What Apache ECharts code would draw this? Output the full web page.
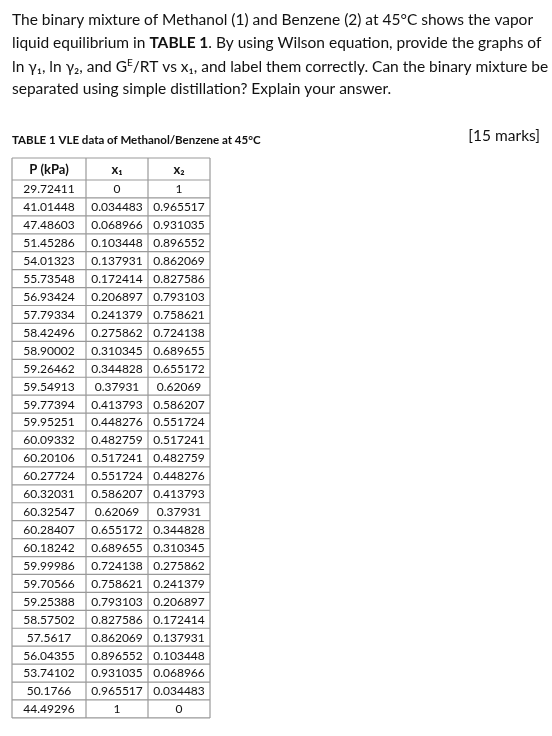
<!DOCTYPE html>
<html><head><meta charset="utf-8">
<script src="https://cdn.jsdelivr.net/npm/echarts@6/dist/echarts.min.js"></script>
<style>html,body{margin:0;padding:0;background:#fff}#c{width:552px;height:736px}</style>
</head><body><div id="c"></div>
<script>
var paragraph = [
  "The binary mixture of Methanol (1) and Benzene (2) at 45°C shows the vapor",
  "liquid equilibrium in {b|TABLE 1}. By using Wilson equation, provide the graphs of",
  "ln γ₁, ln γ₂, and G{s|E}/RT vs x₁, and label them correctly. Can the binary mixture be",
  "separated using simple distillation? Explain your answer."
];
var marksText = "[15 marks]";
var tableTitle = "TABLE 1 VLE data of Methanol/Benzene at 45°C";
var headers = ["P (kPa)", "x₁", "x₂"];
var P = ["29.72411","41.01448","47.48603","51.45286","54.01323","55.73548","56.93424","57.79334","58.42496","58.90002","59.26462","59.54913","59.77394","59.95251","60.09332","60.20106","60.27724","60.32031","60.32547","60.28407","60.18242","59.99986","59.70566","59.25388","58.57502","57.5617","56.04355","53.74102","50.1766","44.49296"];
var X1 = ["0","0.034483","0.068966","0.103448","0.137931","0.172414","0.206897","0.241379","0.275862","0.310345","0.344828","0.37931","0.413793","0.448276","0.482759","0.517241","0.551724","0.586207","0.62069","0.655172","0.689655","0.724138","0.758621","0.793103","0.827586","0.862069","0.896552","0.931035","0.965517","1"];
var X2 = ["1","0.965517","0.931035","0.896552","0.862069","0.827586","0.793103","0.758621","0.724138","0.689655","0.655172","0.62069","0.586207","0.551724","0.517241","0.482759","0.448276","0.413793","0.37931","0.344828","0.310345","0.275862","0.241379","0.206897","0.172414","0.137931","0.103448","0.068966","0.034483","0"];

var F = "Lato, 'Open Sans', sans-serif";
var g = [];
paragraph.forEach(function(t, i){
  g.push({type:'text', left:12, top:12 + i*23, style:{text:t, font:'15.5px '+F, fill:'#111',
    rich:{b:{fontWeight:'bold', fontSize:15.5, fontFamily:F, fill:'#111'}, s:{fontSize:10, fontFamily:F, verticalAlign:'top', padding:[0,0,8,0], fill:'#111'}}}});
});
g.push({type:'text', right:12, top:128, style:{text:marksText, font:'15.5px '+F, fill:'#111'}});
g.push({type:'text', left:12, top:134, style:{text:tableTitle, font:'bold 11.5px '+F, fill:'#111'}});

var cols = [12, 86, 148, 210];
var top0 = 158, hH = 22, rH = 17.93;
var nRows = P.length;
var bottom = top0 + hH + nRows*rH;
var lc = '#999';
// vertical lines
cols.forEach(function(x){ g.push({type:'line', shape:{x1:x,y1:top0,x2:x,y2:bottom}, style:{stroke:lc, lineWidth:1.2}}); });
// horizontal lines
g.push({type:'line', shape:{x1:cols[0],y1:top0,x2:cols[3],y2:top0}, style:{stroke:lc, lineWidth:1.2}});
for (var r=0; r<=nRows; r++){
  var y = top0 + hH + r*rH;
  g.push({type:'line', shape:{x1:cols[0],y1:y,x2:cols[3],y2:y}, style:{stroke:lc, lineWidth:1.2}});
}
headers.forEach(function(h, c){
  g.push({type:'text', x:(cols[c]+cols[c+1])/2, y:top0+hH/2+1, style:{text:h, font:'bold 13px '+F, fill:'#111', align:'center', verticalAlign:'middle'}});
});
var data = [P, X1, X2];
for (var r2=0; r2<nRows; r2++){
  for (var c=0; c<3; c++){
    g.push({type:'text', x:(cols[c]+cols[c+1])/2, y:top0+hH+(r2+0.5)*rH+0.5, style:{text:data[c][r2], font:'12px '+F, fill:'#111', align:'center', verticalAlign:'middle'}});
  }
}
var chart = echarts.init(document.getElementById('c'));
chart.setOption({animation:false, backgroundColor:'#fff', graphic:g});
</script></body></html>
